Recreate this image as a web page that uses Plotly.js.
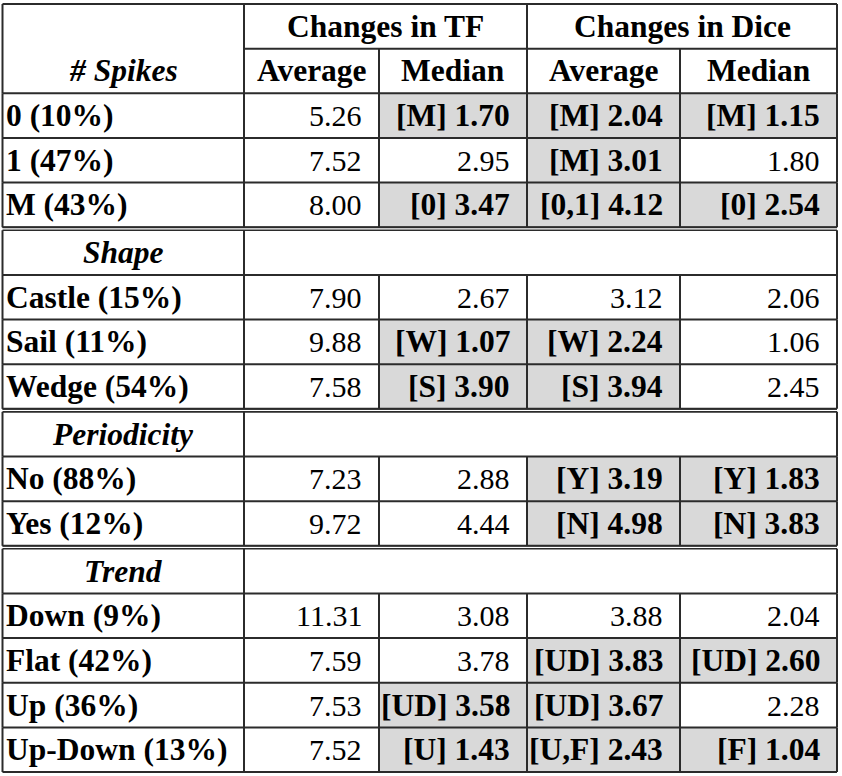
<!DOCTYPE html>
<html>
<head>
<meta charset="utf-8">
<script src="https://cdn.plot.ly/plotly-3.0.1.min.js"></script>
<style>
  body { margin: 0; background: #fff; }
  #graph { width: 842px; height: 776px; }
</style>
</head>
<body>
<div id="graph"></div>
<script>
// table content
var groups = ["# Spikes", "Shape", "Periodicity", "Trend"];
var groupSizes = [3, 3, 2, 4];
var rowLabels = ["0 (10%)", "1 (47%)", "M (43%)",
                 "Castle (15%)", "Sail (11%)", "Wedge (54%)",
                 "No (88%)", "Yes (12%)",
                 "Down (9%)", "Flat (42%)", "Up (36%)", "Up-Down (13%)"];
var topHeaders = ["Changes in TF", "Changes in Dice"];
var subHeaders = ["Average", "Median", "Average", "Median"];

var tfAvg   = [5.26, 7.52, 8.00, 7.90, 9.88, 7.58, 7.23, 9.72, 11.31, 7.59, 7.53, 7.52];
var tfMed   = [1.70, 2.95, 3.47, 2.67, 1.07, 3.90, 2.88, 4.44, 3.08, 3.78, 3.58, 1.43];
var diceAvg = [2.04, 3.01, 4.12, 3.12, 2.24, 3.94, 3.19, 4.98, 3.88, 3.83, 3.67, 2.43];
var diceMed = [1.15, 1.80, 2.54, 2.06, 1.06, 2.45, 1.83, 3.83, 2.04, 2.60, 2.28, 1.04];

// significance tags (shaded cells), "" = not significant
var tfAvgTag   = ["", "", "", "", "", "", "", "", "", "", "", ""];
var tfMedTag   = ["M", "", "0", "", "W", "S", "", "", "", "", "UD", "U"];
var diceAvgTag = ["M", "M", "0,1", "", "W", "S", "Y", "N", "", "UD", "UD", "U,F"];
var diceMedTag = ["M", "", "0", "", "", "", "Y", "N", "", "UD", "", "F"];

// geometry (pixels)
var colEdges = [2.5, 244, 379, 527, 680, 837];
var top0 = 4, rowH = 44.65, gap = 3;
var lineColor = "#2b2b2b", shadeColor = "#d9d9d9";
var fontFam = "'Liberation Serif'";
var fsReg = 30, fsBold = 31.5;

var shapes = [];
var annotations = [];

function hline(x0, x1, y, w) {
  shapes.push({type: "line", xref: "x", yref: "y", x0: x0, x1: x1, y0: y, y1: y,
    line: {color: lineColor, width: w || 2}});
}
function vline(x, y0, y1, w) {
  shapes.push({type: "line", xref: "x", yref: "y", x0: x, x1: x, y0: y0, y1: y1,
    line: {color: lineColor, width: w || 2}});
}
function label(x, y, txt, anchor, size) {
  annotations.push({xref: "x", yref: "y", x: x, y: y, text: txt, showarrow: false,
    xanchor: anchor, yanchor: "middle", font: {family: fontFam, size: size || fsBold, color: "#000"}});
}

// header
var yH1 = top0, yH2 = top0 + rowH, yH3 = top0 + 2 * rowH;
hline(colEdges[0], colEdges[5], yH1);
hline(colEdges[1], colEdges[5], yH2);
vline(colEdges[0], yH1, yH3);
vline(colEdges[1], yH1, yH3);
vline(colEdges[3], yH1, yH3);
vline(colEdges[5], yH1, yH3);
vline(colEdges[2], yH2, yH3);
vline(colEdges[4], yH2, yH3);
label((colEdges[1] + colEdges[3]) / 2, (yH1 + yH2) / 2, "<b>" + topHeaders[0] + "</b>", "center");
label((colEdges[3] + colEdges[5]) / 2, (yH1 + yH2) / 2, "<b>" + topHeaders[1] + "</b>", "center");
for (var c = 0; c < 4; c++) {
  label((colEdges[c + 1] + colEdges[c + 2]) / 2, (yH2 + yH3) / 2, "<b>" + subHeaders[c] + "</b>", "center");
}
label((colEdges[0] + colEdges[1]) / 2, (yH2 + yH3) / 2, "<b><i>" + groups[0] + "</i></b>", "center");

var cols = [[tfAvg, tfAvgTag], [tfMed, tfMedTag], [diceAvg, diceAvgTag], [diceMed, diceMedTag]];
var y = yH3;
var idx = 0;
for (var g = 0; g < groups.length; g++) {
  if (g > 0) {
    // double rule before section
    hline(colEdges[0], colEdges[5], y, 1.6);
    y += gap;
    hline(colEdges[0], colEdges[5], y, 1.6);
    // section header row
    vline(colEdges[0], y, y + rowH);
    vline(colEdges[1], y, y + rowH);
    vline(colEdges[5], y, y + rowH);
    label((colEdges[0] + colEdges[1]) / 2, y + rowH / 2, "<b><i>" + groups[g] + "</i></b>", "center");
    y += rowH;
  }
  hline(colEdges[0], colEdges[5], y);
  for (var r = 0; r < groupSizes[g]; r++) {
    var yc = y + rowH / 2;
    for (var c = 0; c < 4; c++) {
      var v = cols[c][0][idx], tag = cols[c][1][idx];
      var x0 = colEdges[c + 1], x1 = colEdges[c + 2];
      if (tag) {
        shapes.push({type: "rect", xref: "x", yref: "y", x0: x0, x1: x1, y0: y, y1: y + rowH,
          fillcolor: shadeColor, line: {width: 0}, layer: "below"});
        label(x1 - 15, yc, "<b>[" + tag + "] " + v.toFixed(2) + "</b>", "right", fsBold);
      } else {
        label(x1 - 15, yc, v.toFixed(2), "right", fsReg);
      }
    }
    label(colEdges[0] + 1, yc, "<b>" + rowLabels[idx] + "</b>", "left", fsBold);
    for (var e = 0; e < colEdges.length; e++) vline(colEdges[e], y, y + rowH);
    y += rowH;
    hline(colEdges[0], colEdges[5], y);
    idx++;
  }
}

var layout = {
  width: 842, height: 776,
  margin: {l: 0, r: 0, t: 0, b: 0},
  paper_bgcolor: "#fff", plot_bgcolor: "#fff",
  showlegend: false,
  xaxis: {range: [0, 842], visible: false, fixedrange: true},
  yaxis: {range: [776, 0], visible: false, fixedrange: true},
  shapes: shapes,
  annotations: annotations
};

Plotly.newPlot("graph", [{x: [], y: [], type: "scatter", mode: "markers"}], layout,
  {displayModeBar: false, staticPlot: true});
</script>
</body>
</html>
